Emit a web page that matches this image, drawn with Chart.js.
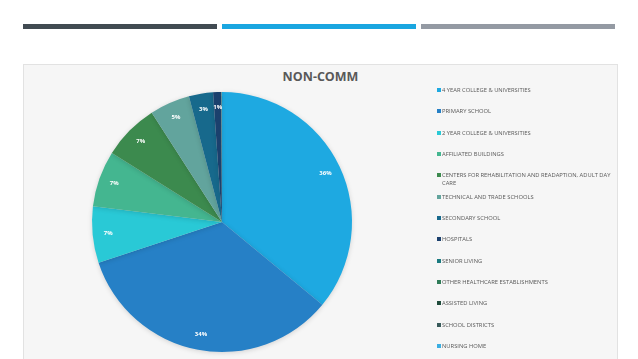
<!DOCTYPE html>
<html>
<head>
<meta charset="utf-8">
<script src="https://cdn.jsdelivr.net/npm/chart.js@4"></script>
<style>
  body { margin:0; width:638px; height:359px; background:#fff; position:relative; overflow:hidden; font-family:"Open Sans", sans-serif; }
  .bar { position:absolute; top:24px; height:5px; }
  #panel { position:absolute; left:23px; top:64px; width:595px; height:295px; background:#f6f6f6; border:1px solid #e2e2e2; border-bottom:none; box-sizing:border-box; }
  #title { position:absolute; left:23px; top:68px; width:595px; text-align:center; font-weight:bold; font-size:12.5px; color:#595959; }
  #wrap { position:absolute; left:23px; top:64px; width:595px; height:295px; }
  #legend { position:absolute; left:437px; top:86px; width:181px; }
  .item { position:relative; font-size:5.8px; color:#595959; line-height:8px; padding-left:5px; height:21.35px; }
  .item span.sw { position:absolute; left:0; top:2px; width:4px; height:4px; }
</style>
</head>
<body>
<div class="bar" style="left:23px;width:194px;background:#414b52"></div>
<div class="bar" style="left:222px;width:194px;background:#1aa6e0"></div>
<div class="bar" style="left:421px;width:194px;background:#949aa3"></div>
<div id="panel"></div>
<div id="title">NON-COMM</div>
<div id="wrap"><canvas id="myChart"></canvas></div>
<div id="legend"></div>
<script>
// データ
const labels = [
  "4 YEAR COLLEGE & UNIVERSITIES",
  "PRIMARY SCHOOL",
  "2 YEAR COLLEGE & UNIVERSITIES",
  "AFFILIATED BUILDINGS",
  "CENTERS FOR REHABILITATION AND READAPTION, ADULT DAY CARE",
  "TECHNICAL AND TRADE SCHOOLS",
  "SECONDARY SCHOOL",
  "HOSPITALS",
  "SENIOR LIVING",
  "OTHER HEALTHCARE ESTABLISHMENTS",
  "ASSISTED LIVING",
  "SCHOOL DISTRICTS",
  "NURSING HOME"
];
const values = [36, 34, 7, 7, 7, 5, 3, 1, 0.02, 0.02, 0.02, 0.02, 0.02];
const colors = [
  "#1ea9e1", "#2680c6", "#29c9d6", "#44b690", "#3c8a4e", "#62a49d", "#17698c",
  "#1b406d", "#1a7a80", "#2f7c58", "#1f4b3b", "#385a5a", "#3aaee2"
];

// 凡例
let html = "";
for (let i = 0; i < labels.length; i++) {
  html += '<div class="item"><span class="sw" style="background:' + colors[i] + '"></span>' + labels[i] + '</div>';
}
document.getElementById("legend").innerHTML = html;

// パーセント表示
const pctLabels = {
  id: "pctLabels",
  afterDatasetsDraw(chart) {
    const ctx = chart.ctx;
    const meta = chart.getDatasetMeta(0);
    ctx.save();
    ctx.fillStyle = "#fff";
    ctx.font = "bold 6px 'Open Sans'";
    ctx.textAlign = "center";
    ctx.textBaseline = "middle";
    meta.data.forEach(function (arc, i) {
      const v = values[i];
      if (v < 1) return;
      const a = (arc.startAngle + arc.endAngle) / 2;
      const r = arc.outerRadius * 0.88;
      ctx.fillText(Math.round(v) + "%", arc.x + Math.cos(a) * r, arc.y + Math.sin(a) * r);
    });
    ctx.restore();
  }
};

const shadow = {
  id: "shadow",
  beforeDatasetsDraw(chart) {
    const ctx = chart.ctx;
    ctx.save();
    ctx.shadowColor = "rgba(0,0,0,0.15)";
    ctx.shadowBlur = 5;
    ctx.shadowOffsetY = 1;
  },
  afterDatasetsDraw(chart) {
    chart.ctx.restore();
  }
};

var ctx = document.getElementById("myChart").getContext("2d");
var chart = new Chart(ctx, {
  type: "pie",
  data: {
    labels: labels,
    datasets: [{
      data: values,
      backgroundColor: colors,
      borderWidth: 0
    }]
  },
  options: {
    responsive: true,
    maintainAspectRatio: false,
    animation: false,
    layout: { padding: { left: 69, right: 266, top: 28, bottom: 7 } },
    plugins: {
      legend: { display: false },
      tooltip: { enabled: false }
    }
  },
  plugins: [shadow, pctLabels]
});
</script>
</body>
</html>
